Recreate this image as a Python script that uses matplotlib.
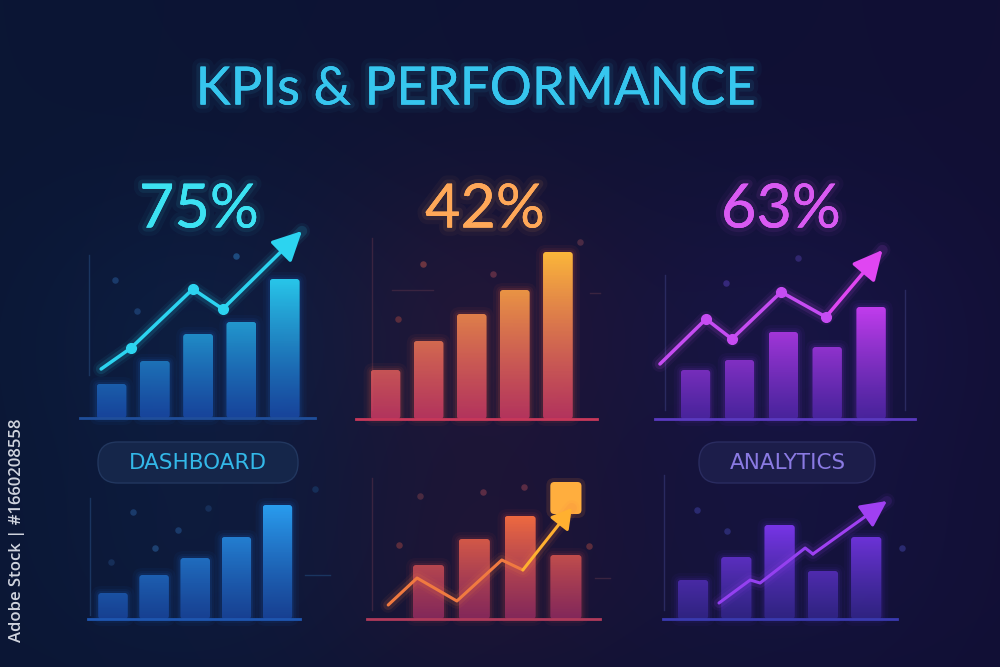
import numpy as np
import matplotlib.pyplot as plt
import matplotlib.colors as mcolors
import matplotlib.patheffects as pe
from matplotlib.patches import FancyBboxPatch

# ---- data ----
title = "KPIs & PERFORMANCE"
kpi_labels = ["75%", "42%", "63%"]
tag_labels = ["DASHBOARD", "ANALYTICS"]

blue_top = [34, 57, 84, 96, 139]
orange_top = [49, 78, 105, 129, 167]
purple_top = [49, 59, 87, 72, 112]
blue_bottom = [26, 44, 61, 82, 114]
orange_bottom = [54, 80, 103, 64]
purple_bottom = [39, 62, 94, 48, 82]

# trend lines: x in bar positions, y in bar units
blue_top_trend_x = [-0.24, 0.45, 1.88, 2.57, 4.4]
blue_top_trend_y = [49, 70, 129, 109, 187]
purple_top_trend_x = [-0.81, 0.24, 0.83, 1.95, 2.97, 4.26]
purple_top_trend_y = [55, 100, 80, 127, 102, 169]
orange_bottom_trend_x = [-0.88, -0.25, 0.62, 1.60, 2.06, 3.13]
orange_bottom_trend_y = [14, 41, 18, 59, 49, 111]
purple_bottom_trend_x = [0.60, 1.32, 1.55, 2.59, 2.77, 4.48]
purple_bottom_trend_y = [16, 39, 36, 71, 65, 118]
orange_target = (3, 105, 32)  # bar position, bottom, height

deco_dots = [(236, 256, '#1d4a7e'), (115, 280, '#1a3a6a'), (137, 311, '#1a3a6a'),
             (423, 264, '#6a3440'), (493, 274, '#5a2c44'), (398, 319, '#5a2c3c'),
             (580, 242, '#4a2a44'), (726, 283, '#35287a'), (798, 258, '#30266e'),
             (133, 512, '#1a3a6a'), (178, 530, '#1a3a6a'), (155, 548, '#1d4070'),
             (111, 562, '#162e58'), (208, 508, '#162e58'), (315, 489, '#162e58'),
             (524, 487, '#5a2c44'), (483, 492, '#5a2c44'), (420, 496, '#4a2a40'),
             (399, 545, '#5a2c3c'), (589, 546, '#5a2c3c'),
             (697, 510, '#2a2a70'), (727, 531, '#2a2a70'), (902, 548, '#2a2a70')]

W, H = 1000, 667
fig = plt.figure(figsize=(10, 6.67), dpi=100)
bg = fig.add_axes([0, 0, 1, 1])
bg.set_xlim(0, W)
bg.set_ylim(H, 0)
bg.axis('off')

# ---- background ----
xx, yy = np.meshgrid(np.arange(W), np.arange(H))
left = np.array(mcolors.to_rgb('#0b1634'))
right = np.array(mcolors.to_rgb('#110f34'))
t = (xx / W)[..., None]
img = left * (1 - t) + right * t


def glow(img, cx, cy, sx, sy, color, a):
    g = np.exp(-(((xx - cx) / sx) ** 2 + ((yy - cy) / sy) ** 2) / 2)[..., None] * a
    return img * (1 - g) + np.array(mcolors.to_rgb(color)) * g


img = glow(img, 475, 330, 120, 110, '#2e1838', 0.6)
img = glow(img, 485, 560, 120, 90, '#2a1636', 0.55)
img = glow(img, 790, 340, 130, 110, '#1e1852', 0.5)
img = glow(img, 790, 560, 130, 90, '#1a1648', 0.4)
img = glow(img, 200, 340, 120, 110, '#0e2a52', 0.4)
img = glow(img, 200, 560, 120, 90, '#0e2448', 0.35)
bg.imshow(np.clip(img, 0, 1), extent=(0, W, H, 0), aspect='auto', zorder=0)

# faint panel guide lines
for x, y0, y1, c in [(89, 255, 375, '#1a3560'), (372, 238, 410, '#3a2440'),
                     (665, 275, 410, '#2a2a60'), (905, 290, 410, '#2a2a60'),
                     (90, 498, 615, '#1a3560'), (372, 478, 610, '#3a2440'),
                     (664, 475, 610, '#2a2a60')]:
    bg.plot([x, x], [y0, y1], color=c, lw=1, zorder=1)
for x0, x1, y, c in [(392, 433, 290, '#3a2440'), (590, 600, 293, '#3a2440'),
                     (305, 330, 575, '#1a3560'), (595, 610, 578, '#3a2440')]:
    bg.plot([x0, x1], [y, y], color=c, lw=1, zorder=1)

for x, y, c in deco_dots:
    bg.scatter(x, y, s=22, color=c, zorder=1, linewidths=0)


# ---- texts ----
def soft_glow(c):
    return [pe.withStroke(linewidth=12, foreground=c, alpha=0.04),
            pe.withStroke(linewidth=6, foreground=c, alpha=0.08), pe.Normal()]


bg.text(476, 90, title, color='#36c6ee', fontsize=38, family='Lato',
        ha='center', va='center', zorder=5, path_effects=soft_glow('#36c6ee'))

kpi_pos = [(199, 210, '#3ce2f2'), (485, 210, '#ffa858'), (781, 210, '#d95af2')]
for lab, (x, y, c) in zip(kpi_labels, kpi_pos):
    bg.text(x, y, lab, color=c, fontsize=44, family='Lato', ha='center', va='center',
            zorder=5, path_effects=soft_glow(c))

pill_specs = [((98, 442, 200, 41), '#15264a', '#22375f', (198, 463), '#33b8e8'),
              ((699, 442, 176, 41), '#1c1d4a', '#2a2c60', (788, 463), '#8a7ae2')]
for lab, (box, fc, ec, (tx, ty), tc) in zip(tag_labels, pill_specs):
    bx, by, bw, bh = box
    bg.add_patch(FancyBboxPatch((bx, by), bw, bh, boxstyle="round,pad=0,rounding_size=20",
                                facecolor=fc, edgecolor=ec, lw=1, zorder=2))
    bg.text(tx, ty, lab, color=tc, fontsize=15.5, family='DejaVu Sans', ha='center',
            va='center', zorder=5)

bg.text(17, 530, "Adobe Stock | #1660208558", rotation=90, color='#d0d4de', fontsize=12,
        family='Open Sans', weight='semibold', ha='center', va='center', zorder=5)


# ---- panels ----
def make_panel(x0, x1, base, hpx, c0, sp):
    ax = fig.add_axes([x0 / W, 1 - base / H, (x1 - x0) / W, hpx / H])
    ax.set_xlim((x0 - c0) / sp, (x1 - c0) / sp)
    ax.set_ylim(0, hpx)
    ax.axis('off')
    return ax


def gradient_bars(ax, values, width, c_bot, c_top, gmax, sp, glow_c):
    xs = np.arange(len(values))
    rects = ax.bar(xs, values, width=width, color='none', edgecolor='none')
    cb = np.array(mcolors.to_rgba(c_bot))
    ct = np.array(mcolors.to_rgba(c_top))
    s = np.linspace(0, 1, 256)[:, None]
    grad = cb * (1 - s) + ct * s
    grad[:, 3] = 0.75 + 0.25 * s[:, 0]
    grad = grad[:, None, :]
    for r in rects:
        x, w, h = r.get_x(), r.get_width(), r.get_height()
        for pad, a in [(7, 0.05), (4, 0.07), (2, 0.1)]:
            ax.add_patch(FancyBboxPatch((x, 0), w, h, boxstyle=f"round,pad={pad / sp},rounding_size={(pad + 3) / sp}",
                                        mutation_aspect=sp, facecolor=glow_c, edgecolor='none',
                                        alpha=a, clip_on=False, zorder=1))
        clip = FancyBboxPatch((x, 0), w, h, boxstyle=f"round,pad=0,rounding_size={3 / sp}",
                              mutation_aspect=sp, facecolor='none', edgecolor='none')
        ax.add_patch(clip)
        im = ax.imshow(grad, extent=(x, x + w, 0, gmax), origin='lower', aspect='auto', zorder=2)
        im.set_clip_path(clip)


def trend(ax, xs, ys, color, lw, head, head_color=None, markers=None):
    head_color = head_color or color
    for k, a in [(9, 0.06), (5, 0.12)]:
        ax.plot(xs, ys, color=color, lw=lw + k, alpha=a, solid_capstyle='round', clip_on=False, zorder=3)
    ax.plot(xs[:-1], ys[:-1], color=color, lw=lw, solid_capstyle='round', clip_on=False, zorder=4)
    ax.annotate('', xy=(xs[-1], ys[-1]), xytext=(xs[-2], ys[-2]), annotation_clip=False,
                arrowprops=dict(arrowstyle=f'-|>,head_length={head[0]},head_width={head[1]}',
                                color=head_color, lw=lw, mutation_scale=20, shrinkA=0, shrinkB=0),
                zorder=5)
    if markers:
        ax.plot([xs[i] for i in markers], [ys[i] for i in markers], 'o', color=color,
                ms=7, clip_on=False, zorder=5)


panels = [
    dict(box=(80, 315, 418, 200, 111.5, 43.3), vals=blue_top, w=0.69, cols=('#1a4cb0', '#2ad4f2'),
         gmax=150, glow='#1e6ad8', base='#1f4e9a'),
    dict(box=(356, 597, 419, 200, 385.5, 43.1), vals=orange_top, w=0.69, cols=('#d83a6a', '#ffbc3a'),
         gmax=170, glow='#e8583a', base='#c8385a'),
    dict(box=(655, 915, 419, 200, 695.5, 43.9), vals=purple_top, w=0.67, cols=('#5228b0', '#c83ef2'),
         gmax=115, glow='#8a32e0', base='#5a3ac0'),
    dict(box=(88, 300, 619, 160, 113, 41.1), vals=blue_bottom, w=0.72, cols=('#1a48a4', '#2aa0f2'),
         gmax=116, glow='#1e6ad8', base='#1e56b0'),
    dict(box=(367, 600, 619, 160, 428.5, 45.8), vals=orange_bottom, w=0.68, cols=('#9a2c66', '#f26c40'),
         gmax=105, glow='#d04a48', base='#b03a5a'),
    dict(box=(663, 897, 619, 160, 693, 43.3), vals=purple_bottom, w=0.7, cols=('#34288e', '#7a36ea'),
         gmax=96, glow='#5a30d0', base='#3a3ab0'),
]

axes = []
for p in panels:
    x0, x1, base, hpx, c0, sp = p['box']
    ax = make_panel(x0, x1, base, hpx, c0, sp)
    gradient_bars(ax, p['vals'], p['w'], p['cols'][0], p['cols'][1], p['gmax'], sp, p['glow'])
    ax.axhline(0, color=p['base'], lw=2, zorder=3, clip_on=False)
    axes.append(ax)

trend(axes[0], blue_top_trend_x, blue_top_trend_y, '#2cd4f0', 2.5, (0.9, 0.45), markers=[1, 2, 3])
trend(axes[2], purple_top_trend_x, purple_top_trend_y, '#c64cf2', 2.5, (0.9, 0.45), head_color='#e046f2',
      markers=[1, 2, 3, 4])
# target box above the last orange bar
tx, tb, th = orange_target
sp5 = panels[4]['box'][5]
axes[4].add_patch(FancyBboxPatch((tx - 0.34, tb), 0.68, th, boxstyle=f"round,pad={4 / sp5},rounding_size={8 / sp5}",
                                 mutation_aspect=sp5, facecolor='#ff8a30', alpha=0.12, edgecolor='none',
                                 clip_on=False, zorder=2))
axes[4].add_patch(FancyBboxPatch((tx - 0.34, tb), 0.68, th, boxstyle=f"round,pad=0,rounding_size={4 / sp5}",
                                 mutation_aspect=sp5, facecolor='#ffae3e', edgecolor='none',
                                 clip_on=False, zorder=3))
trend(axes[4], orange_bottom_trend_x, orange_bottom_trend_y, '#f07a40', 2.2, (0.6, 0.35), head_color='#ffb030')
trend(axes[5], purple_bottom_trend_x, purple_bottom_trend_y, '#9440f0', 2.2, (0.8, 0.4), head_color='#a040f2')

for ax, p in zip(axes, panels):
    x0, x1, base, hpx, c0, sp = p['box']
    ax.set_xlim((x0 - c0) / sp, (x1 - c0) / sp)
    ax.set_ylim(0, hpx)

fig.savefig('out.png', dpi=100, facecolor='#0b1533')
